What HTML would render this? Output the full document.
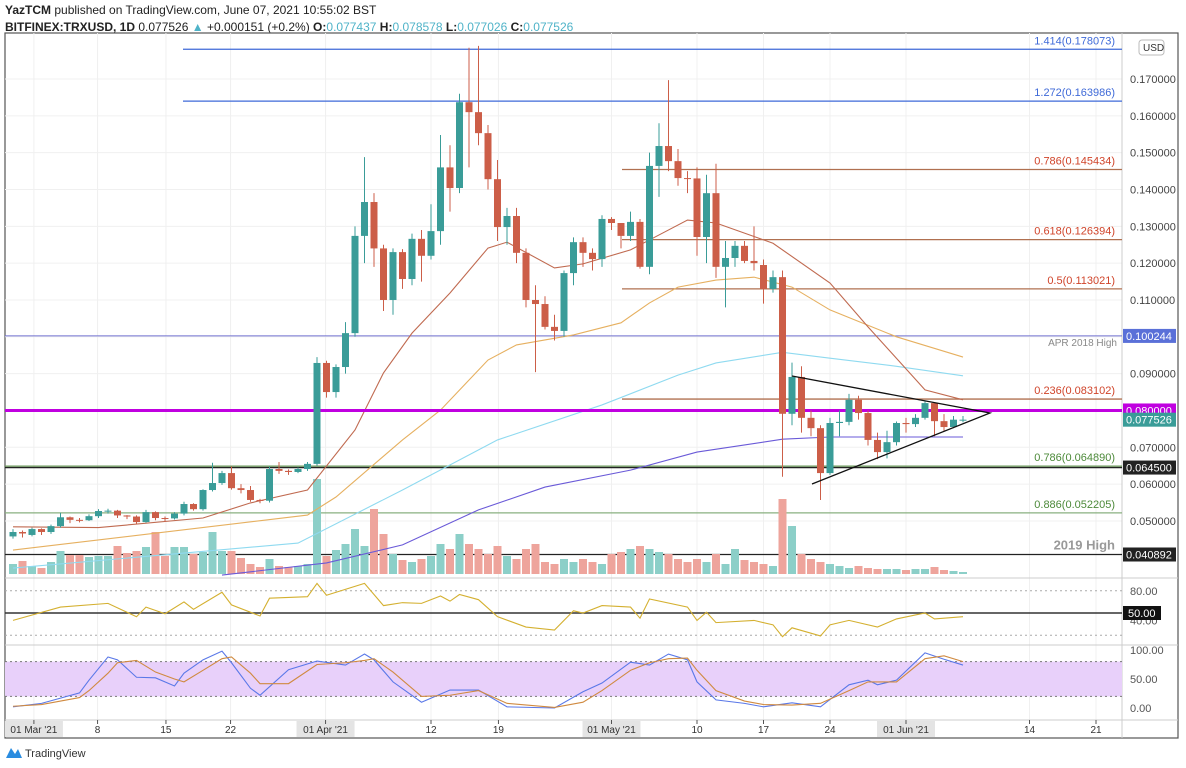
<!DOCTYPE html>
<html><head><meta charset="utf-8">
<style>
html,body{margin:0;padding:0;background:#fff;}
body{width:1186px;height:768px;overflow:hidden;font-family:"Liberation Sans",sans-serif;}
#hdr1{position:absolute;left:5px;top:3px;font-size:12px;color:#222;}
#hdr2{position:absolute;left:5px;top:20px;font-size:12px;color:#222;}
.v{color:#4fb3c8;}
svg{position:absolute;left:0;top:0;}
text{font-family:"Liberation Sans",sans-serif;}
</style></head>
<body>
<div id="hdr1"><b>YazTCM</b> published on TradingView.com, June 07, 2021 10:55:02 BST</div>
<div id="hdr2"><b>BITFINEX:TRXUSD, 1D</b> 0.077526 <span class="v">▲</span> +0.000151 (+0.2%) <b>O:</b><span class="v">0.077437</span> <b>H:</b><span class="v">0.078578</span> <b>L:</b><span class="v">0.077026</span> <b>C:</b><span class="v">0.077526</span></div>
<svg id="chart" width="1186" height="768"></svg>
<script>
// ---- data ----
const opens=[.0458,.0470,.0462,.0478,.0470,.0486,.0510,.0503,.0502,.0513,.0527,.0528,.0515,.0512,.0497,.0524,.0508,.0507,.0520,.0546,.0532,.0584,.0603,.0630,.0589,.0584,.0557,.0555,.0641,.0636,.0633,.0641,.0655,.0929,.0850,.0918,.1010,.1274,.1366,.1240,.1100,.1230,.1157,.1266,.1220,.1287,.1460,.1404,.1637,.1610,.1553,.1428,.1298,.1328,.1228,.1100,.1089,.1027,.1016,.1173,.1257,.1228,.1211,.1320,.1309,.1274,.1312,.1190,.1464,.1518,.1477,.1431,.1430,.1271,.1390,.1190,.1214,.1247,.1206,.1195,.1130,.1162,.0791,.0891,.0780,.0752,.0630,.0766,.0769,.0829,.0793,.0720,.0687,.0714,.0766,.0763,.0780,.0820,.0771,.0755,.0774];
const closes=[.0470,.0466,.0478,.0470,.0486,.0510,.0503,.0502,.0513,.0527,.0528,.0515,.0512,.0497,.0524,.0508,.0507,.0520,.0546,.0532,.0584,.0603,.0630,.0589,.0584,.0557,.0555,.0641,.0636,.0633,.0641,.0655,.0929,.0850,.0918,.1010,.1274,.1366,.1240,.1100,.1230,.1157,.1266,.1220,.1287,.1460,.1404,.1637,.1610,.1553,.1428,.1298,.1328,.1228,.1100,.1089,.1027,.1016,.1173,.1257,.1228,.1211,.1320,.1309,.1274,.1312,.1190,.1464,.1518,.1477,.1431,.1430,.1271,.1390,.1190,.1214,.1247,.1206,.1200,.1130,.1162,.0791,.0891,.0780,.0752,.0630,.0766,.0769,.0829,.0793,.0720,.0687,.0714,.0766,.0763,.0780,.0820,.0771,.0755,.0775,.0775];
const highs=[.0478,.0474,.0482,.0480,.0490,.0522,.0512,.0508,.0518,.0532,.0533,.0530,.0516,.0515,.0530,.0526,.0512,.0524,.0552,.0548,.0586,.0658,.0636,.0648,.0600,.0595,.0560,.0648,.0660,.0640,.0645,.0660,.0945,.0935,.0925,.1040,.1300,.1488,.1390,.1250,.1240,.1238,.1280,.1290,.1360,.1548,.1520,.1660,.1785,.1790,.1575,.1480,.1350,.1350,.1240,.1140,.1110,.1060,.1180,.1270,.1270,.1240,.1330,.1325,.1300,.1340,.1320,.1500,.1580,.1697,.1510,.1450,.1460,.1440,.1470,.1260,.1260,.1260,.1300,.1210,.1180,.1180,.0930,.0920,.0800,.0760,.0780,.0800,.0845,.0840,.0800,.0740,.0745,.0770,.0780,.0790,.0825,.0820,.0790,.0785,.0785];
const lows=[.0452,.0455,.0458,.0462,.0465,.0482,.0494,.0496,.0500,.0508,.0520,.0508,.0505,.0492,.0495,.0502,.0498,.0504,.0515,.0528,.0528,.0580,.0598,.0585,.0575,.0552,.0548,.0550,.0628,.0625,.0630,.0636,.0650,.0835,.0835,.0900,.1000,.1200,.1190,.1070,.1060,.1130,.1140,.1150,.1210,.1250,.1340,.1390,.1460,.1520,.1400,.1260,.1250,.1200,.1080,.0904,.1020,.0990,.1000,.1140,.1190,.1180,.1190,.1290,.1240,.1260,.1185,.1170,.1380,.1450,.1410,.1390,.1220,.1200,.1160,.1080,.1190,.1200,.1180,.1090,.1120,.0620,.0760,.0740,.0730,.0557,.0625,.0730,.0760,.0775,.0705,.0668,.0670,.0705,.0740,.0755,.0775,.0730,.0745,.0752,.0768];
const volumes=[10,13,8,6,12,23,19,19,17,18,18,28,21,23,27,42,18,27,27,20,22,42,23,23,16,10,7,15,8,7,8,10,95,18,24,30,45,28,65,40,20,14,12,15,18,30,25,40,30,25,20,28,18,15,25,30,12,10,15,12,15,12,10,20,22,25,28,25,22,20,15,12,15,12,20,10,25,14,12,10,8,75,48,20,15,12,10,8,6,8,6,5,5,5,4,5,5,7,4,3,2];
const ma20Idx=[0,9,20,25,31,36,39,42,46,50,52,57,60,65,67,71,74,80,86,90,96,100];
const ma20Val=[.0484,.0482,.0508,.0549,.0584,.0747,.0902,.101,.1119,.1241,.1257,.1187,.1198,.1236,.1263,.1317,.1309,.1254,.1146,.1027,.0856,.0829];
const ma50Idx=[0,31,34,41,45,50,53,59,64,67,70,74,78,82,86,93,100];
const ma50Val=[.0421,.0516,.0565,.072,.0801,.0937,.0978,.1005,.1038,.1092,.1135,.1154,.1162,.1135,.1073,.100,.0945];
const ma100Idx=[0,30,41,51,62,70,74,81,86,93,100];
const ma100Val=[.0372,.044,.0584,.072,.0815,.0896,.0929,.0958,.0942,.092,.0894];
const ma200Idx=[22,33,41,49,56,65,72,81,86,100];
const ma200Val=[.0353,.0386,.0435,.053,.0592,.0638,.0687,.0722,.0728,.0728];
const rsiIdx=[0,5,10,13,14,16,18,19,22,23,26,27,31,32,33,37,39,41,43,45,46,47,49,51,54,57,59,60,62,65,66,67,71,72,73,74,78,80,81,82,85,86,88,91,93,96,97,100];
const rsiVal=[40,58,63,45,58,49,65,55,78,61,46,70,72,90,74,90,60,64,63,73,66,75,68,45,31,27,53,50,60,58,43,69,58,40,51,37,40,34,18,30,19,34,40,31,42,50,42,45];
const stochIdx=[0,3,7,8,10,11,13,15,17,18,20,22,23,25,26,29,32,35,37,38,40,43,46,49,52,57,60,62,65,67,69,71,72,74,77,79,82,85,88,90,91,93,96,98,100];
const stochK=[2,8,26,48,88,83,53,52,38,60,83,98,78,34,22,66,81,74,93,83,45,10,31,31,2,0,28,43,79,74,93,83,45,14,8,2,9,2,40,48,40,48,95,84,74];
const stochD=[3,6,18,30,60,78,82,62,50,45,65,85,88,60,42,42,75,78,82,85,62,20,22,30,8,1,10,30,65,78,85,86,65,30,12,6,5,8,30,45,45,45,85,90,80];
const priceTicks=[0.17,0.16,0.15,0.14,0.13,0.12,0.11,0.10,0.09,0.08,0.07,0.06,0.05];
const dateLabels=["01 Mar '21","8","15","22","01 Apr '21","12","19","01 May '21","10","17","24","01 Jun '21","14","21"];
const dateIdx=[2.2,8.9,16.1,22.9,32.9,44,51.1,63,72,79,86,94,107,114];
const monthLabel=[true,false,false,false,true,false,false,true,false,false,false,true,false,false];

// ---- axes ----
const NS="http://www.w3.org/2000/svg";
const svg=document.getElementById('chart');
const PR=1122;
const xOf=i=>13+i*9.5;
const yP=p=>79+(0.17-p)*3683;
const yRsi=v=>613-(v-50)*0.74;
const ySt=v=>708-v*0.58;
function mk(tag,attrs,parent){const e=document.createElementNS(NS,tag);for(const k in attrs)e.setAttribute(k,attrs[k]);(parent||svg).appendChild(e);return e;}
function txt(x,y,s,attrs){const t=mk('text',Object.assign({x:x,y:y,'font-size':11,fill:'#555'},attrs||{}));t.textContent=s;return t;}

// frame
let e=mk('rect',{x:5,y:33,width:1173,height:705,fill:'none',stroke:'#555','stroke-width':1.2});

// grid
priceTicks.forEach(p=>{const g=mk('line',{x1:5,x2:PR,y1:yP(p),y2:yP(p),stroke:'#f0f0f0'});
});
dateIdx.forEach(d=>{const g=mk('line',{x1:xOf(d),x2:xOf(d),y1:33,y2:720,stroke:'#f0f0f0'});
});
// pane separators
[[578],[645],[720]].forEach(a=>{const l=mk('line',{x1:5,x2:1178,y1:a[0],y2:a[0],stroke:'#ccc'});
});
e=mk('line',{x1:PR,x2:PR,y1:33,y2:738,stroke:'#ccc'});


// fib/level lines
function hline(y,x1,col,w,name){const l=mk('line',{x1:x1,x2:PR,y1:y,y2:y,stroke:col,'stroke-width':w});
return l;}
const fibs=[[0.178073,'1.414',183,'#3f6ad8','#3f6ad8'],[0.163986,'1.272',183,'#3f6ad8','#3f6ad8'],[0.145434,'0.786',622,'#b07050','#d0442a'],[0.126394,'0.618',622,'#b07050','#d0442a'],[0.113021,'0.5',622,'#b07050','#d0442a'],[0.083102,'0.236',622,'#b07050','#d0442a'],[0.064890,'0.786',5,'#6a9a58','#4d8a3a'],[0.052205,'0.886',5,'#8ab080','#4d8a3a']];
fibs.forEach(f=>{const y=yP(f[0]);hline(y,f[2],f[3],1.3,'fib-level-'+f[1]);
const t=txt(1115,y-5,f[1]+'('+f[0].toFixed(6)+')',{'text-anchor':'end',fill:f[4]});
});
hline(yP(0.100244),5,'#7070d0',1,'apr-2018-high-line');
e=txt(1117,yP(0.100244)+10,'APR 2018 High',{'text-anchor':'end',fill:'#888','font-size':10});

hline(yP(0.0645),5,'#222',1.3,'support-line-0645');
hline(yP(0.040892),5,'#222',1.3,'line-2019-high');
e=txt(1115,yP(0.040892)-5,'2019 High',{'text-anchor':'end',fill:'#999','font-size':13,'font-weight':'bold'});


// volume
volumes.forEach((v,i)=>{const up=closes[i]>=opens[i];
const r=mk('rect',{x:xOf(i)-4,y:574-v,width:8,height:v,fill:up?'#8ccfc8':'#eea49c'});
});

// MAs
function poly(idx,val,col,name,yf){const pts=idx.map((d,k)=>xOf(d)+','+yf(val[k])).join(' ');
const p=mk('polyline',{points:pts,fill:'none',stroke:col,'stroke-width':1.1});
}
poly(ma200Idx,ma200Val,'#6a5ad8','ma-200-line',yP);
poly(ma100Idx,ma100Val,'#8fdaf0','ma-100-line',yP);
poly(ma50Idx,ma50Val,'#e6b060','ma-50-line',yP);
poly(ma20Idx,ma20Val,'#c06a50','ma-20-line',yP);

// magenta line
e=mk('line',{x1:5,x2:PR,y1:yP(0.08),y2:yP(0.08),stroke:'#c000e0','stroke-width':3});


// candles
closes.forEach((c,i)=>{const o=opens[i],up=c>=o,col=up?'#3a9c98':'#cc5e48';
const w=mk('line',{x1:xOf(i),x2:xOf(i),y1:yP(highs[i]),y2:yP(lows[i]),stroke:col,'stroke-width':1});

const t=Math.min(yP(o),yP(c)),h=Math.max(1,Math.abs(yP(o)-yP(c)));
const b=mk('rect',{x:xOf(i)-3.5,y:t,width:7,height:h,fill:col});
});

// triangle
e=mk('polyline',{points:'792,376 990,413 812,484',fill:'none',stroke:'#111','stroke-width':1.3});


// price axis labels
priceTicks.forEach(p=>{const t=txt(1130,yP(p)+4,p.toFixed(6),{fill:'#444'});
});
e=mk('rect',{x:1139,y:40,width:25,height:15,rx:3,fill:'#fff',stroke:'#bbb'});

e=txt(1143,51,'USD',{fill:'#333','font-size':10});

function tag(p,s,bg,name){const y=yP(p);const r=mk('rect',{x:1123,y:y-7,width:53,height:14,fill:bg});

const t=txt(1126,y+4,s,{fill:'#fff'});}
tag(0.100244,'0.100244','#5a70d8','apr-2018-price-tag');
tag(0.08,'0.080000','#c000e0','level-0080-price-tag');
tag(0.0775,'0.077526','#3a9c98','last-price-tag');
tag(0.0645,'0.064500','#222','level-0645-price-tag');
tag(0.040892,'0.040892','#222','level-2019-price-tag');

// RSI pane
[80,40].forEach(v=>{const l=mk('line',{x1:5,x2:PR,y1:yRsi(v==40?20:80),y2:yRsi(v==40?20:80),stroke:'#aaa','stroke-dasharray':'2,3'});
});
e=mk('line',{x1:5,x2:PR,y1:yRsi(50),y2:yRsi(50),stroke:'#333','stroke-width':1.5});

poly(rsiIdx,rsiVal,'#d4b030','rsi-line',yRsi);
e=txt(1130,yRsi(80)+4,'80.00');
e=txt(1130,yRsi(40)+4,'40.00');
e=mk('rect',{x:1123,y:yRsi(50)-7,width:38,height:14,fill:'#111'});
e=txt(1128,yRsi(50)+4,'50.00',{fill:'#fff'});

// Stoch pane
e=mk('rect',{x:5,y:ySt(80),width:PR-5,height:ySt(20)-ySt(80),fill:'#e8d0fa'});

[80,20].forEach(v=>{const l=mk('line',{x1:5,x2:PR,y1:ySt(v),y2:ySt(v),stroke:'#777','stroke-dasharray':'2,3'});
});
poly(stochIdx,stochK,'#5a78e8','stoch-k-line',ySt);
poly(stochIdx,stochD,'#d08a40','stoch-d-line',ySt);
[[100,'100.00'],[50,'50.00'],[0,'0.00']].forEach(a=>{const t=txt(1130,ySt(a[0])+4,a[1]);
});

// time axis
dateLabels.forEach((s,k)=>{const x=xOf(dateIdx[k]);
if(monthLabel[k]){const r=mk('rect',{x:x-29,y:721,width:58,height:16,fill:'#e4e4e4'});
}
const tk=mk('line',{x1:x,x2:x,y1:720,y2:724,stroke:'#555'});
const t=txt(x,733,s,{'text-anchor':'middle',fill:'#333','font-size':10});
});

// footer logo
e=mk('path',{d:'M6,758 L11,748 L15,754 L18,749 L22,758 Z',fill:'#2a8ce0'});

e=txt(25,757,'TradingView',{fill:'#333','font-size':11});

</script>
</body></html>
